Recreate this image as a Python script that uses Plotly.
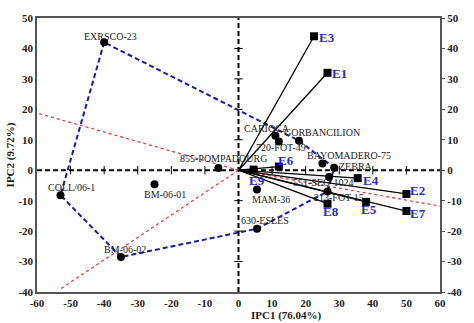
import plotly.graph_objects as go

# Genotype scores (IPC1, IPC2)
genotypes = ["EXRSCO-23", "COLL/06-1", "BM-06-01", "BM-06-02", "855-POMPADOURG",
             "CARIOCA", "720-FOT-49", "GORBANCILION", "BAYOMADERO-75", "ZEBRA",
             "551-SEQ-1024", "213-FOT-15", "MAM-36", "630-ESLES"]
gen_x = [-40, -53, -25, -35, -6, 11, 12, 18, 25, 28.5, 27, 26.5, 5.5, 5.5]
gen_y = [42, -8.2, -4.6, -28.5, 0.7, 11.3, 9.4, 9.7, 2.2, 0.8, -2.2, -7, -6.3, -19.2]

# Environment scores (IPC1, IPC2)
envs = ["E1", "E2", "E3", "E4", "E5", "E6", "E7", "E8", "E9"]
env_x = [26.5, 50, 22.5, 35.5, 38, 12, 50, 26.5, 4.5]
env_y = [32, -7.8, 44, -2.6, -10.4, 1.2, -13.4, -11, 0.2]

# Vertices of the polygon (genotype names, drawn in order and closed)
hull = ["EXRSCO-23", "COLL/06-1", "BM-06-02", "630-ESLES", "213-FOT-15",
        "ZEBRA", "GORBANCILION", "EXRSCO-23"]

# End points of the sector rays leaving the origin
ray_x = [-60, -53, 60]
ray_y = [18.8, -39, -11.8]

# Axis ticks
x_ticks = [-60, -50, -40, -30, -20, -10, 0, 10, 20, 30, 40, 50, 60]
y_ticks = [-40, -30, -20, -10, 0, 10, 20, 30, 40, 50]
x_tick_text = ["-60", "-50", "-40", "-30", "-20", "-10", "0", "10", "20", "30", "40", "50", "60"]
y_tick_text = ["-40", "-30", "-20", "-10", "0", "10", "20", "30", "40", "50"]

# Label offsets in pixels (dx, dy upward)
gen_label_shift = {
    "EXRSCO-23": (6, 6), "COLL/06-1": (11, 8), "BM-06-01": (10, -10),
    "BM-06-02": (4, 7), "855-POMPADOURG": (5, 10), "CARIOCA": (-8, 7),
    "720-FOT-49": (2, -6), "GORBANCILION": (23, 8), "BAYOMADERO-75": (27, 8),
    "ZEBRA": (22, 1), "551-SEQ-1024": (-6, -6), "213-FOT-15": (11, -6),
    "MAM-36": (14, -10), "630-ESLES": (8, 8),
}
env_label_shift = {
    "E1": (12, -1), "E2": (11, 3), "E3": (13, -1), "E4": (13, -2), "E5": (3, -8),
    "E6": (7, 6), "E7": (12, -2), "E8": (3, -8), "E9": (3, -11),
}

SERIF = "Liberation Serif"
BLUE_LINE = "#1c1ca0"
BLUE_TEXT = "#2a2ac4"

fig = go.Figure()

# Dashed axes through the origin
fig.add_trace(go.Scatter(x=[-60, 60], y=[0, 0], mode="lines",
                         line=dict(color="black", width=2, dash="5px,3px"),
                         hoverinfo="skip", showlegend=False))
fig.add_trace(go.Scatter(x=[0, 0], y=[-40, 50], mode="lines",
                         line=dict(color="black", width=2, dash="5px,3px"),
                         hoverinfo="skip", showlegend=False))
# Small tick marks along the inner axes
inner_x = [v for v in x_ticks if v not in (0, -60, 60)]
inner_y = [v for v in y_ticks if v not in (0, -40, 50)]
fig.add_trace(go.Scatter(x=inner_x, y=[0] * len(inner_x), mode="markers",
                         marker=dict(symbol="line-ns", size=6,
                                     line=dict(color="black", width=1)),
                         hoverinfo="skip", showlegend=False))
fig.add_trace(go.Scatter(x=[0] * len(inner_y), y=inner_y, mode="markers",
                         marker=dict(symbol="line-ew", size=6,
                                     line=dict(color="black", width=1)),
                         hoverinfo="skip", showlegend=False))

# Red dotted sector rays
for rx, ry in zip(ray_x, ray_y):
    fig.add_trace(go.Scatter(x=[0, rx], y=[0, ry], mode="lines",
                             line=dict(color="#e8303a", width=1.2, dash="dot"),
                             hoverinfo="skip", showlegend=False))

# Blue dashed polygon
idx = {g: i for i, g in enumerate(genotypes)}
fig.add_trace(go.Scatter(x=[gen_x[idx[g]] for g in hull],
                         y=[gen_y[idx[g]] for g in hull], mode="lines",
                         line=dict(color=BLUE_LINE, width=2, dash="5px,3px"),
                         hoverinfo="skip", showlegend=False))

# Environment vectors from the origin
for x, y in zip(env_x, env_y):
    fig.add_trace(go.Scatter(x=[0, x], y=[0, y], mode="lines",
                             line=dict(color="black", width=1.3),
                             hoverinfo="skip", showlegend=False))

# Genotype points
fig.add_trace(go.Scatter(x=gen_x, y=gen_y, mode="markers",
                         marker=dict(symbol="circle", size=8, color="black"),
                         text=genotypes, showlegend=False))
# Environment points
fig.add_trace(go.Scatter(x=env_x, y=env_y, mode="markers",
                         marker=dict(symbol="square", size=8, color="black"),
                         text=envs, showlegend=False))

annotations = []
for g, x, y in zip(genotypes, gen_x, gen_y):
    dx, dy = gen_label_shift[g]
    annotations.append(dict(x=x, y=y, text=g, showarrow=False, xshift=dx, yshift=dy,
                            font=dict(family=SERIF, size=10, color="#222")))
for e, x, y in zip(envs, env_x, env_y):
    dx, dy = env_label_shift[e]
    annotations.append(dict(x=x, y=y, text="<b>%s</b>" % e, showarrow=False,
                            xshift=dx, yshift=dy,
                            font=dict(family=SERIF, size=13, color=BLUE_TEXT)))

# Axis titles
annotations.append(dict(xref="paper", yref="paper", x=0.62, y=-0.087,
                        yanchor="middle", text="<b>IPC1 (76.04%)</b>", showarrow=False,
                        font=dict(family=SERIF, size=11, color="#222")))
annotations.append(dict(xref="paper", yref="paper", x=-0.066, y=0.5,
                        xanchor="center", yanchor="middle", text="<b>IPC2 (9.72%)</b>",
                        showarrow=False, textangle=-90,
                        font=dict(family=SERIF, size=11, color="#222")))

tickfont = dict(family=SERIF, size=11, color="#222")
fig.update_layout(
    width=474, height=323,
    margin=dict(l=37, r=30, t=12, b=31),
    paper_bgcolor="white", plot_bgcolor="white",
    showlegend=False,
    annotations=annotations,
    xaxis=dict(range=[-60, 60], tickvals=x_ticks, ticktext=["<b>%s</b>" % t for t in x_tick_text],
               showgrid=False, zeroline=False, showline=True, linecolor="#555",
               linewidth=1.5, mirror=True, ticks="", tickfont=tickfont),
    yaxis=dict(range=[-40, 50], tickvals=y_ticks, ticktext=["<b>%s</b>" % t for t in y_tick_text],
               showgrid=False, zeroline=False, showline=True, linecolor="#555",
               linewidth=1.5, mirror=True, ticks="", tickfont=tickfont),
    yaxis2=dict(range=[-40, 50], tickvals=y_ticks, ticktext=["<b>%s</b>" % t for t in y_tick_text],
                overlaying="y", side="right", showgrid=False, zeroline=False,
                showline=False, ticks="outside", ticklen=4, tickcolor="#555",
                tickfont=tickfont),
)
# Invisible trace to activate the right-hand axis
fig.add_trace(go.Scatter(x=[0], y=[0], yaxis="y2", mode="markers",
                         marker=dict(opacity=0), hoverinfo="skip", showlegend=False))

fig.write_html("out.html")
